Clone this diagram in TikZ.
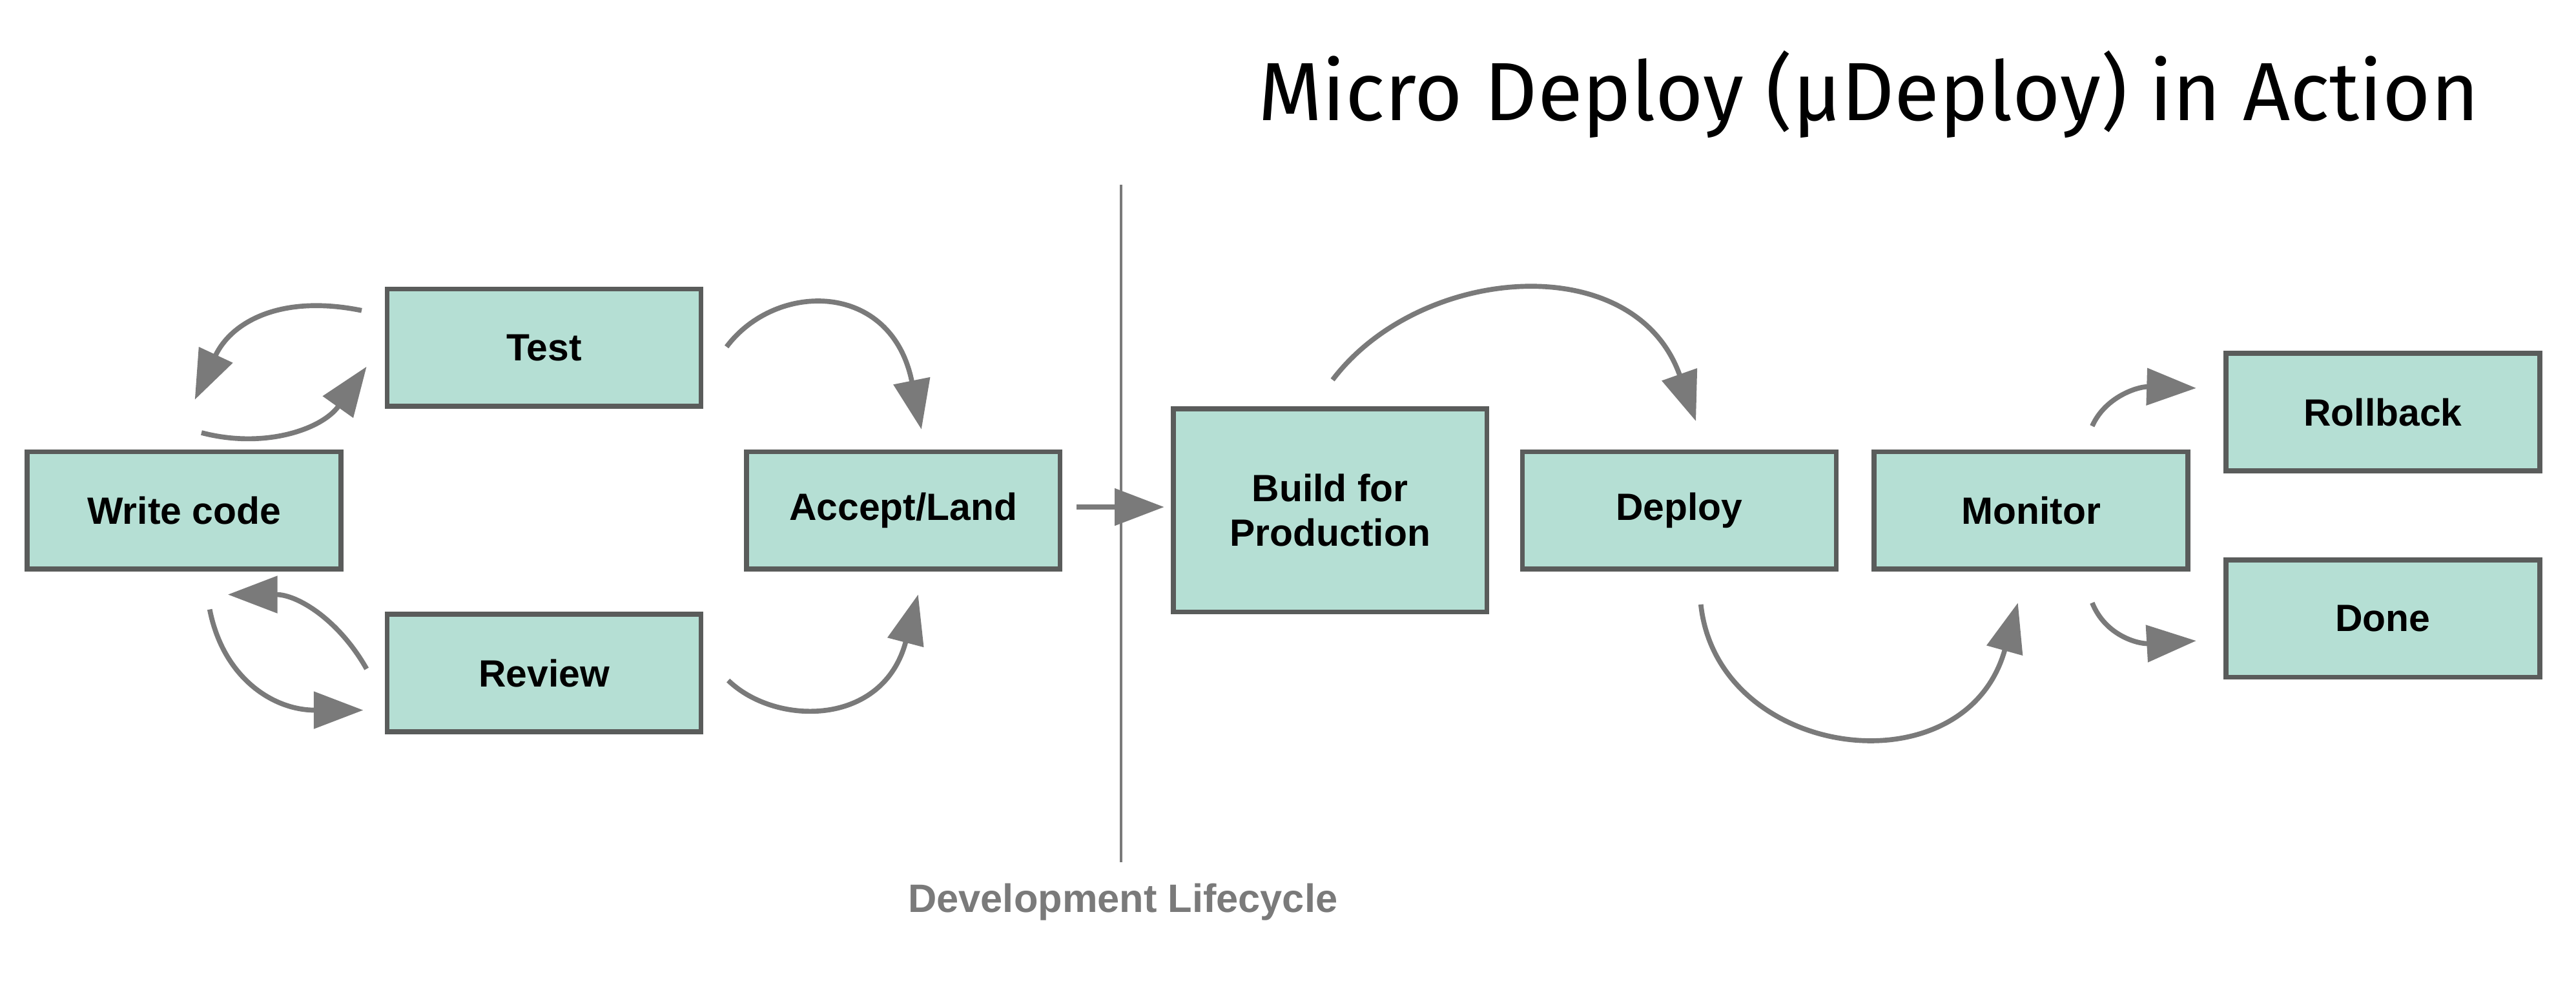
\documentclass[tikz,border=0pt]{standalone}
\usepackage{fontspec}
\setmainfont{Liberation Sans}
\newfontfamily\titlefont{Fira Sans}
\usetikzlibrary{arrows.meta}
\definecolor{boxfill}{HTML}{B5DFD4}
\definecolor{boxdraw}{HTML}{5A5C5B}
\definecolor{arr}{HTML}{7A7A7A}
\begin{document}
\begin{tikzpicture}[x=1pt,y=-1pt,
  box/.style={draw=boxdraw,fill=boxfill,line width=3pt,minimum width=190pt,minimum height=71pt,font=\fontsize{23}{27}\selectfont\bfseries,align=center,inner sep=0},
  tall/.style={box,minimum height=123pt},
  flow/.style={draw=arr,line width=3pt,-{Triangle[length=30pt,width=22pt]}}]
\useasboundingbox (0,0) rectangle (1560,595);
\node[box] (write) at (111.5,309) {Write code};
\node[box] (test) at (329.5,210.5) {Test};
\node[box] (review) at (329.5,407.5) {Review};
\node[box] (accept) at (547,309) {Accept/Land};
\node[tall] (build) at (805.5,309) {Build for\\Production};
\node[box] (deploy) at (1017,309) {Deploy};
\node[box] (monitor) at (1230,309) {Monitor};
\node[box] (rollback) at (1443,249.5) {Rollback};
\node[box] (done) at (1443,374.5) {Done};
\coordinate (lt) at (679,112); \coordinate (lb) at (679,522);
\draw[arr,line width=1.5pt] (lt) -- (lb);
\node[text=arr,font=\fontsize{24}{28}\selectfont\bfseries] (lab) at (680,546) {Development Lifecycle};
\node[anchor=east,font=\titlefont\fontsize{50}{60}\selectfont] (title) at (1505,57) {Micro Deploy (μDeploy) in Action};
\draw[flow] (219,188) .. controls (170,178) and (140,195) .. (118,242);
\draw[flow] (122,262) .. controls (160,272) and (195,260) .. (222,222);
\draw[flow] (222,405) .. controls (205,375) and (180,360) .. (138,360);
\draw[flow] (127,369) .. controls (135,410) and (165,430) .. (220,430);
\draw[flow] (440,210) .. controls (470,170) and (540,170) .. (558,260);
\draw[flow] (441,412) .. controls (470,440) and (535,440) .. (556,360);
\draw[flow] (652,307) -- (705,307);
\draw[flow] (807,230) .. controls (860,160) and (990,150) .. (1027,255);
\draw[flow] (1030,366) .. controls (1040,460) and (1190,480) .. (1222,365);
\draw[flow] (1267,258) .. controls (1275,240) and (1295,234) .. (1330,235);
\draw[flow] (1267,365) .. controls (1275,385) and (1295,390) .. (1330,388);
\end{tikzpicture}
\end{document}
